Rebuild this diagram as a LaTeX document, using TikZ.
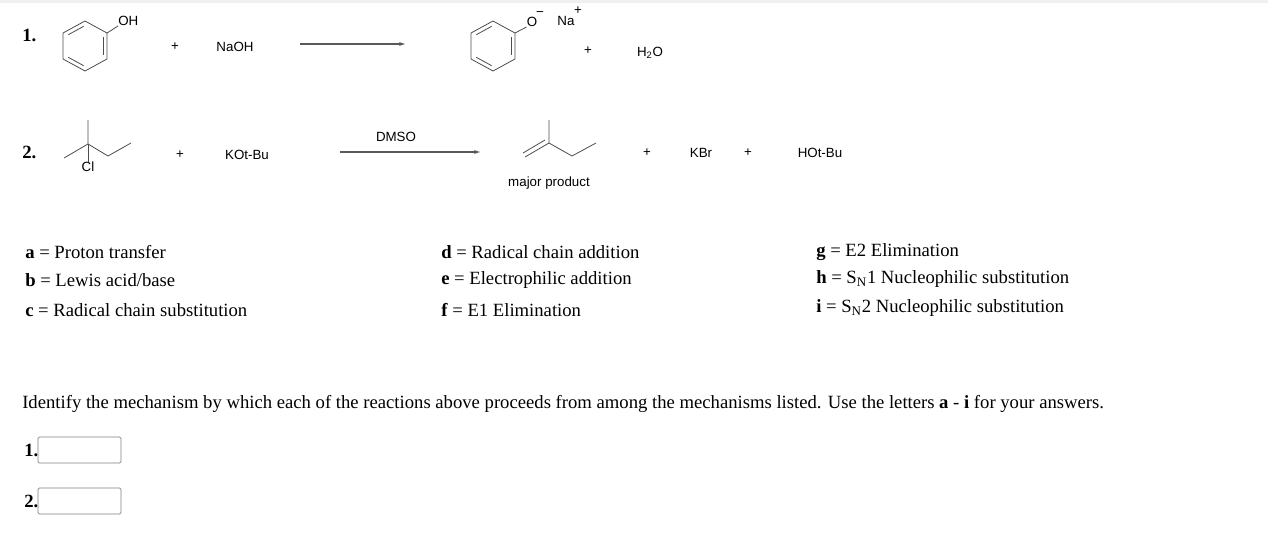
\documentclass[tikz,border=0pt]{standalone}
\usepackage{fontspec}
\usetikzlibrary{calc,arrows.meta}
\setmainfont{Liberation Serif}
\newfontfamily\arial{Liberation Sans}
\begin{document}
\begin{tikzpicture}[x=0.75pt,y=-0.75pt,
  chem/.style={font=\arial\fontsize{10}{12}\selectfont,inner sep=0pt},
  txt/.style={font=\fontsize{14}{16}\selectfont,anchor=west,inner sep=0pt},
  bnum/.style={txt,font=\bfseries\fontsize{14}{16}\selectfont},
  bond/.style={line width=0.6pt,gray!60!black},
  rarrow/.style={line width=0.8pt,gray!70!black,-{Latex[length=5pt,width=3pt]}},
  ansbox/.style={draw=gray,line width=0.6pt,rounded corners=1pt,minimum width=62.25pt,minimum height=19.5pt,inner sep=0pt}]
\useasboundingbox (0,0) rectangle (1268,533);
\fill[gray!12] (0,0) rectangle (1268,3);
% reaction 1
\node[bnum] (n1) at (22,35) {1.};
\foreach \c/\n in {85/A,493/B}{
  \coordinate (\n1) at (\c,21);\coordinate (\n2) at (\c+22,33);\coordinate (\n3) at (\c+22,59);
  \coordinate (\n4) at (\c,71);\coordinate (\n5) at (\c-22,59);\coordinate (\n6) at (\c-22,33);
  \draw[bond] (\n1)--(\n2)--(\n3)--(\n4)--(\n5)--(\n6)--cycle;
  \draw[bond] ($(\n2)!0.15!(\n3)+(-4,0)$)--($(\n3)!0.15!(\n2)+(-4,0)$);
  \draw[bond] ($(\n4)!0.15!(\n5)+(2,-3.5)$)--($(\n5)!0.15!(\n4)+(2,-3.5)$);
  \draw[bond] ($(\n6)!0.15!(\n1)+(2,3.5)$)--($(\n1)!0.15!(\n6)+(2,3.5)$);
}
\node[chem,anchor=west] (oh) at (118,21) {OH};
\draw[bond] (A2)--(oh.south west);
\node[chem] (p1) at (175,47) {+};
\node[chem] (naoh) at (235,47) {NaOH};
\coordinate (a1s) at (300,44);\coordinate (a1e) at (406,44);
\draw[rarrow] (a1s)--(a1e);
\node[chem] (om) at (532,22) {O};
\node[chem] at (540,14) {\textminus};
\draw[bond] (B2)--(om.south west);
\node[chem] (na) at (566,21) {Na};
\node[chem] at (578,11) {+};
\node[chem] (p2) at (588,51) {+};
\node[chem] (h2o) at (650,53) {H\textsubscript{2}O};
% reaction 2
\node[bnum] (n2) at (22,152) {2.};
\coordinate (c1) at (88,144);
\draw[bond] (88,120)--(c1)--(64,158);
\draw[bond] (c1)--(108,156)--(131,143);
\node[chem] (cl) at (88,167) {Cl};
\draw[bond] (c1)--(cl.north);
\node[chem] (p3) at (180,155) {+};
\node[chem] (kot) at (247,155) {KOt-Bu};
\coordinate (a2s) at (340,152);\coordinate (a2e) at (481,152);
\draw[rarrow] (a2s)--(a2e);
\node[chem] (dmso) at (396,137) {DMSO};
\coordinate (c2) at (549,143);
\draw[bond] (549,120)--(c2)--(525,157);
\draw[bond] (545,140)--(523,153);
\draw[bond] (c2)--(572,156)--(596,143);
\node[chem] (maj) at (549,183) {major product};
\node[chem] (p4) at (647,153) {+};
\node[chem] (kbr) at (701,153) {KBr};
\node[chem] (p5) at (748,153) {+};
\node[chem] (hot) at (820,153) {HOt-Bu};
% list
\node[txt] (la) at (25,252) {\textbf{a} = Proton transfer};
\node[txt] (lb) at (25,280) {\textbf{b} = Lewis acid/base};
\node[txt] (lc) at (25,310) {\textbf{c} = Radical chain substitution};
\node[txt] (ld) at (441,252) {\textbf{d} = Radical chain addition};
\node[txt] (le) at (441,280) {\textbf{e} = Electrophilic addition};
\node[txt] (lf) at (441,310) {\textbf{f} = E1 Elimination};
\node[txt] (lg) at (816,252) {\textbf{g} = E2 Elimination};
\node[txt] (lh) at (816,279) {\textbf{h} = S\textsubscript{N}1 Nucleophilic substitution};
\node[txt] (li) at (816,308) {\textbf{i} = S\textsubscript{N}2 Nucleophilic substitution};
\node[txt] (q) at (22,404) {Identify the mechanism by which each of the reactions above proceeds from among the mechanisms listed. Use the letters \textbf{a} - \textbf{i} for your answers.};
\node[bnum] (b1l) at (24,450) {1.};
\node[ansbox] (b1) at (79.5,450) {};
\node[bnum] (b2l) at (24,501) {2.};
\node[ansbox] (b2) at (79.5,501) {};
\end{tikzpicture}
\end{document}
